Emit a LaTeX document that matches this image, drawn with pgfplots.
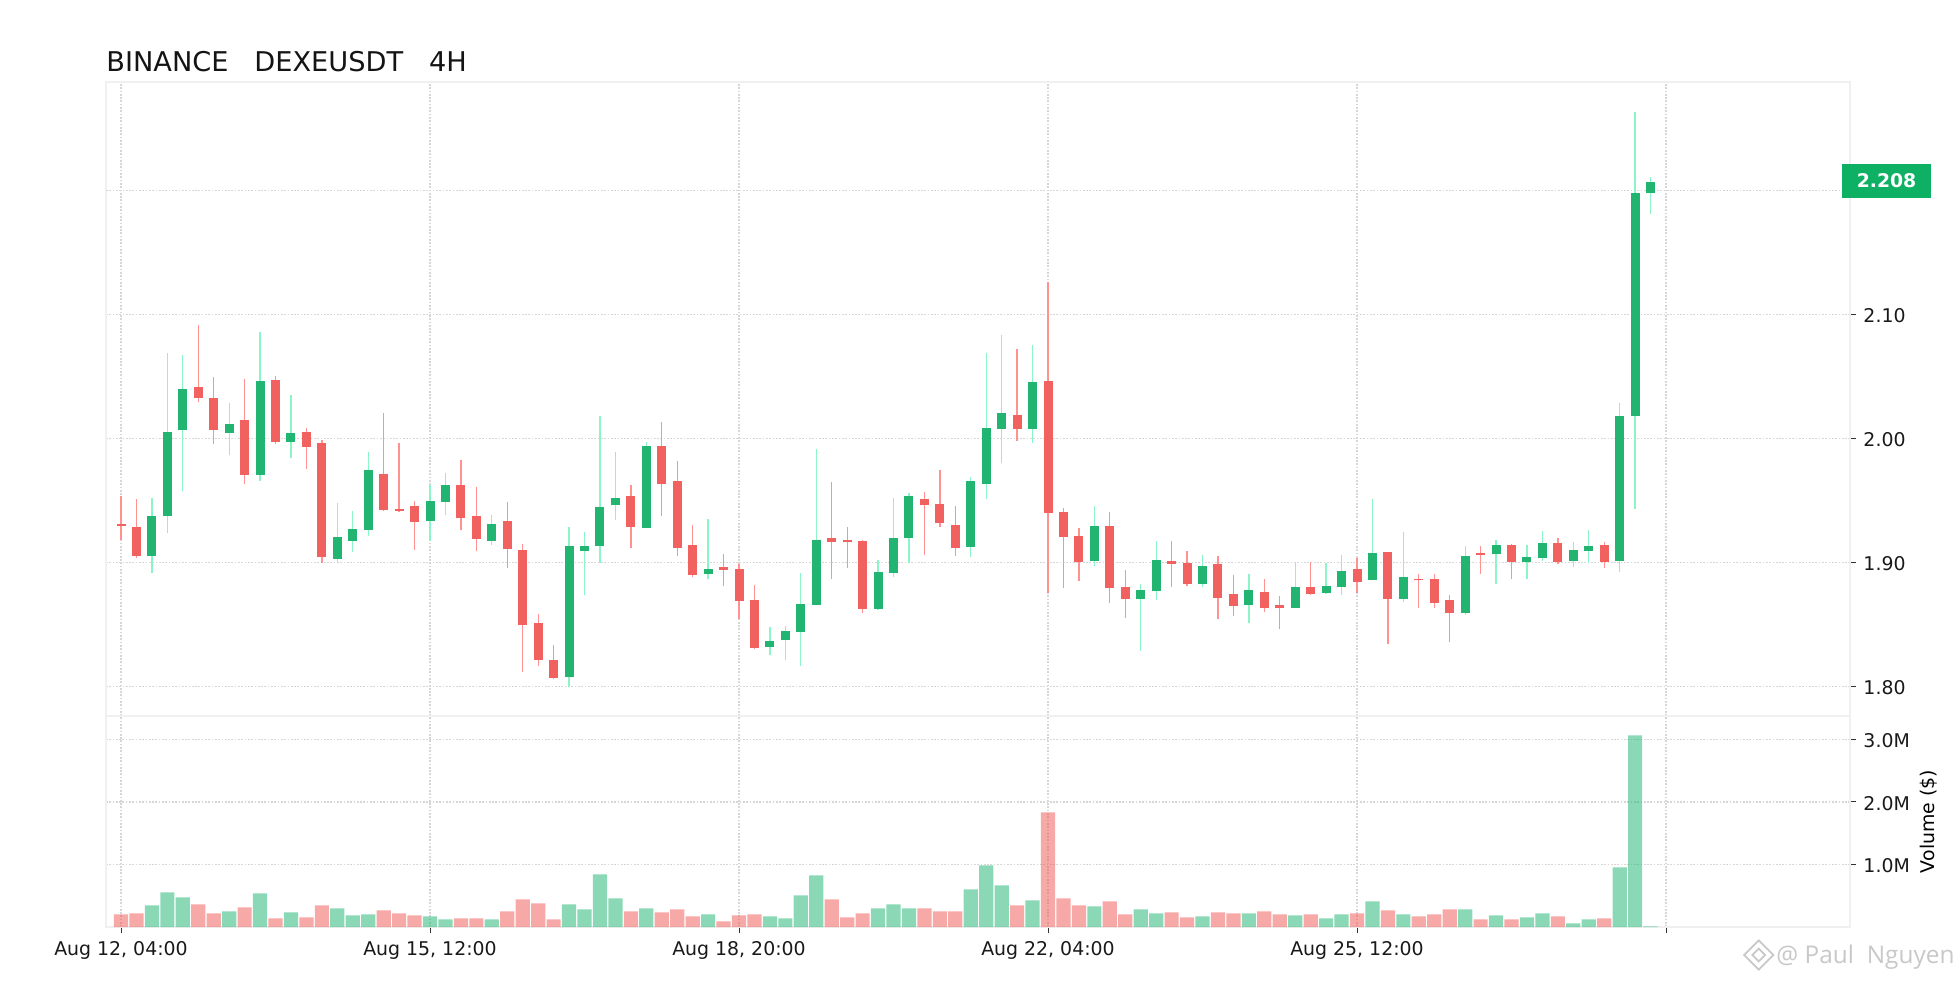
\documentclass[border=0pt]{standalone}
\usepackage{pgfplots}
\usepackage{pgfplotstable}
\usepackage{fontspec}
\setmainfont{DejaVu Sans}
\newfontfamily\wmfont{Open Sans}
\pgfplotsset{compat=1.18}
\definecolor{bodyup}{RGB}{33,181,113}
\definecolor{bodydn}{RGB}{240,97,95}
\definecolor{wickup}{RGB}{140,245,200}
\definecolor{wickdn}{RGB}{255,145,145}
\definecolor{volup}{RGB}{22,178,107}
\definecolor{voldn}{RGB}{239,83,80}
\definecolor{gridc}{RGB}{214,214,214}
\definecolor{framec}{RGB}{240,240,240}
\definecolor{tagc}{RGB}{14,176,100}
\definecolor{wmc}{RGB}{200,200,200}
% i open high low close volume(M)
\pgfplotstableread{
i o h l c v
2 1.9054 1.9519 1.8914 1.9376 .347
3 1.9376 2.0688 1.9237 2.0054 .555
4 2.0070 2.0672 1.9575 2.0401 .475
7 2.0046 2.0285 1.9866 2.0118 .251
9 1.9707 2.0858 1.9656 2.0465 .539
11 1.9973 2.0349 1.9841 2.0046 .235
14 1.9032 1.9478 1.9000 1.9207 .299
15 1.9175 1.9414 1.9089 1.9272 .187
16 1.9263 1.9890 1.9215 1.9747 .203
20 1.9339 1.9626 1.9175 1.9497 .171
21 1.9492 1.9720 1.9382 1.9626 .123
24 1.9175 1.9382 1.9140 1.9312 .123
29 1.8081 1.9290 1.8000 1.9134 .363
30 1.9097 1.9245 1.8737 1.9134 .283
31 1.9134 2.0180 1.8995 1.9449 .843
32 1.9465 1.9890 1.9344 1.9522 .459
34 1.9280 1.9976 1.9277 1.9941 .299
38 1.8911 1.9349 1.8868 1.8949 .203
42 1.8323 1.8484 1.8253 1.8366 .171
43 1.8379 1.8492 1.8212 1.8446 .139
44 1.8444 1.8919 1.8164 1.8667 .507
45 1.8659 1.9914 1.8659 1.9183 .827
49 1.8629 1.9019 1.8618 1.8925 .299
50 1.8919 1.9519 1.8882 1.9199 .363
51 1.9202 1.9559 1.8995 1.9538 .299
55 1.9126 1.9688 1.9043 1.9659 .603
56 1.9637 2.0688 1.9511 2.0086 .987
57 2.0078 2.0833 1.9801 2.0207 .667
59 2.0078 2.0753 1.9968 2.0457 .427
63 1.9013 1.9460 1.8973 1.9296 .331
66 1.8707 1.8825 1.8290 1.8780 .283
67 1.8772 1.9172 1.8696 1.9022 .219
70 1.8828 1.9059 1.8801 1.8973 .171
73 1.8659 1.8906 1.8511 1.8780 .219
76 1.8634 1.8995 1.8634 1.8804 .187
78 1.8755 1.8995 1.8745 1.8812 .139
79 1.8804 1.9059 1.8742 1.8933 .203
81 1.8860 1.9511 1.8860 1.9078 .411
83 1.8707 1.9245 1.8683 1.8884 .203
87 1.8594 1.9134 1.8581 1.9054 .283
89 1.9070 1.9180 1.8825 1.9142 .187
91 1.9005 1.9140 1.8871 1.9046 .155
92 1.9038 1.9255 1.9016 1.9159 .219
94 1.9016 1.9169 1.8962 1.9102 .059
95 1.9097 1.9266 1.9000 1.9134 .123
97 1.9013 2.0285 1.8922 2.0183 .955
98 2.0183 2.2637 1.9430 2.1978 3.067
99 2.1981 2.2113 2.1809 2.2070 .010
}\uptable
\pgfplotstableread{
i o h l c v
0 1.9312 1.9538 1.9183 1.9296 .203
1 1.9288 1.9516 1.9035 1.9054 .219
5 2.0417 2.0919 2.0296 2.0331 .363
6 2.0328 2.0497 1.9957 2.0070 .219
8 2.0151 2.0478 1.9634 1.9707 .315
10 2.0473 2.0505 1.9957 1.9973 .139
12 2.0054 2.0086 1.9755 1.9935 .155
13 1.9962 1.9989 1.8995 1.9048 .347
17 1.9715 2.0210 1.9419 1.9425 .267
18 1.9433 1.9968 1.9411 1.9418 .219
19 1.9457 1.9500 1.9102 1.9331 .187
22 1.9626 1.9831 1.9263 1.9360 .139
23 1.9376 1.9613 1.9091 1.9194 .139
25 1.9336 1.9492 1.8957 1.9113 .251
26 1.9102 1.9151 1.8118 1.8500 .443
27 1.8513 1.8586 1.8167 1.8218 .379
28 1.8215 1.8336 1.8065 1.8070 .123
33 1.9538 1.9626 1.9118 1.9290 .251
35 1.9941 2.0137 1.9376 1.9637 .235
36 1.9659 1.9820 1.9054 1.9121 .283
37 1.9140 1.9304 1.8887 1.8903 .171
39 1.8962 1.9070 1.8812 1.8944 .091
40 1.8949 1.8989 1.8543 1.8694 .187
41 1.8696 1.8820 1.8304 1.8315 .203
46 1.9196 1.9653 1.8868 1.9169 .443
47 1.9180 1.9288 1.8957 1.9165 .155
48 1.9172 1.9180 1.8591 1.8629 .219
52 1.9513 1.9573 1.9059 1.9465 .299
53 1.9473 1.9750 1.9285 1.9323 .251
54 1.9301 1.9457 1.9054 1.9121 .251
58 2.0191 2.0726 1.9978 2.0078 .347
60 2.0465 2.1266 1.8753 1.9403 1.835
61 1.9406 1.9444 1.8796 1.9210 .459
62 1.9215 1.9280 1.8849 1.9005 .347
64 1.9296 1.9411 1.8675 1.8796 .411
65 1.8804 1.8941 1.8554 1.8707 .203
68 1.9013 1.9175 1.8804 1.8989 .235
69 1.8997 1.9097 1.8812 1.8828 .155
71 1.8989 1.9056 1.8546 1.8715 .235
72 1.8747 1.8901 1.8570 1.8651 .219
74 1.8763 1.8868 1.8602 1.8637 .251
75 1.8656 1.8731 1.8462 1.8637 .203
77 1.8804 1.9005 1.8739 1.8747 .203
80 1.8949 1.9038 1.8755 1.8844 .219
82 1.9086 1.9086 1.8341 1.8707 .267
84 1.8872 1.8911 1.8634 1.8858 .171
85 1.8868 1.8911 1.8634 1.8675 .203
86 1.8699 1.8739 1.8360 1.8594 .283
88 1.9080 1.9137 1.8909 1.9066 .123
90 1.9142 1.9151 1.8866 1.9005 .123
93 1.9159 1.9202 1.8989 1.9005 .171
96 1.9142 1.9167 1.8960 1.9008 .139
}\dntable
\pgfplotsset{
  panel/.style={
    scale only axis, width=872pt, anchor=south west,
    xmin=-0.971, xmax=111.91,
    xtick={0,20,40,60,80,100},
    grid=major,
    grid style={gridc, line width=0.7pt, dash pattern=on 0.85pt off 0.8pt},
    axis line style={framec, line width=1pt},
    tick align=outside,
    major tick length=3.2pt,
    tick style={black!80, line width=0.5pt},
    xtick pos=bottom, ytick pos=right,
    yticklabel pos=right,
    tick label style={font=\fontsize{9.45}{11}\selectfont, text=black!90},
    yticklabel style={yshift=-0.6pt},
    xticklabel style={yshift=-0.6pt},
  },
  wick/.style={draw=none, mark=none, forget plot,
    error bars/.cd, y dir=both, y explicit, error mark=none,
    error bar style={#1, line width=0.65pt}},
  body/.style={draw=none, mark=none, forget plot,
    error bars/.cd, y dir=plus, y explicit, error mark=none,
    error bar style={#1, line width=4.5pt}},
}
\begin{document}
\begin{tikzpicture}[x=1pt,y=1pt]
\path[use as bounding box] (0,0) rectangle (980,490);
\begin{axis}[panel, at={(53pt,132pt)}, height=316.75pt,
  ymin=1.7764, ymax=2.2873,
  ytick={1.8,1.9,2.0,2.1},
  yticklabels={1.80,1.90,2.00,2.10},
  extra y ticks={2.2},
  extra y tick labels={},
  extra tick style={major tick length=0pt},
  xticklabels={},
  x tick style={draw=none},
  major tick length=3.2pt,
  clip=true,
  title={BINANCE\ \ \ DEXEUSDT\ \ \ 4H},
  title style={at={(axis description cs:0,1)}, anchor=base west, xshift=0pt, yshift=-0.3pt,
    font=\fontsize{13.6}{15}\selectfont, text=black!92, inner xsep=0pt, inner ysep=0pt},
]
\addplot[wick=wickup] table[x=i, y=l, y error plus expr=\thisrow{h}-\thisrow{l}, y error minus expr=0] {\uptable};
\addplot[wick=wickdn] table[x=i, y=l, y error plus expr=\thisrow{h}-\thisrow{l}, y error minus expr=0] {\dntable};
\addplot[body=bodyup] table[x=i, y=o, y error plus expr=\thisrow{c}-\thisrow{o}] {\uptable};
\addplot[body=bodydn] table[x=i, y=c, y error plus expr=\thisrow{o}-\thisrow{c}] {\dntable};
\end{axis}
\begin{axis}[panel, at={(53pt,26.5pt)}, height=105.5pt,
  ymin=0, ymax=3.376,
  ytick={1,2,3},
  yticklabels={1.0M,2.0M,3.0M},
  xticklabels={{Aug 12, 04:00},{Aug 15, 12:00},{Aug 18, 20:00},{Aug 22, 04:00},{Aug 25, 12:00},{}},
  ylabel={Volume (\$)},
  every axis y label/.style={at={(axis description cs:1.045,0.5)}, rotate=90, anchor=center,
    font=\fontsize{9.45}{11}\selectfont},
]
\addplot[ybar, bar width=7.1pt, bar shift=0pt, draw=none, fill=volup, fill opacity=0.5, forget plot]
  table[x=i, y=v] {\uptable};
\addplot[ybar, bar width=7.1pt, bar shift=0pt, draw=none, fill=voldn, fill opacity=0.5, forget plot]
  table[x=i, y=v] {\dntable};
\end{axis}
% last price tag
\node[fill=tagc, text=white, minimum width=44.5pt, minimum height=17.4pt, inner sep=0pt,
  font=\bfseries\fontsize{9.4}{11}\selectfont] at (943.25,399.5) {2.208};
% watermark
\begin{scope}[shift={(879.4,12.5)}, wmc, line width=0.9pt]
\draw (0,-7.3) -- (7.3,0) -- (0,7.3) -- (-7.3,0) -- cycle;
\draw (0,-3.2) -- (3.2,0) -- (0,3.2) -- (-3.2,0) -- cycle;
\end{scope}
\node[anchor=west, text=wmc, inner sep=0pt, font=\wmfont\fontsize{12.2}{14}\selectfont] at (888,11.2) {@ Paul\ \ Nguyen};
\end{tikzpicture}
\end{document}
